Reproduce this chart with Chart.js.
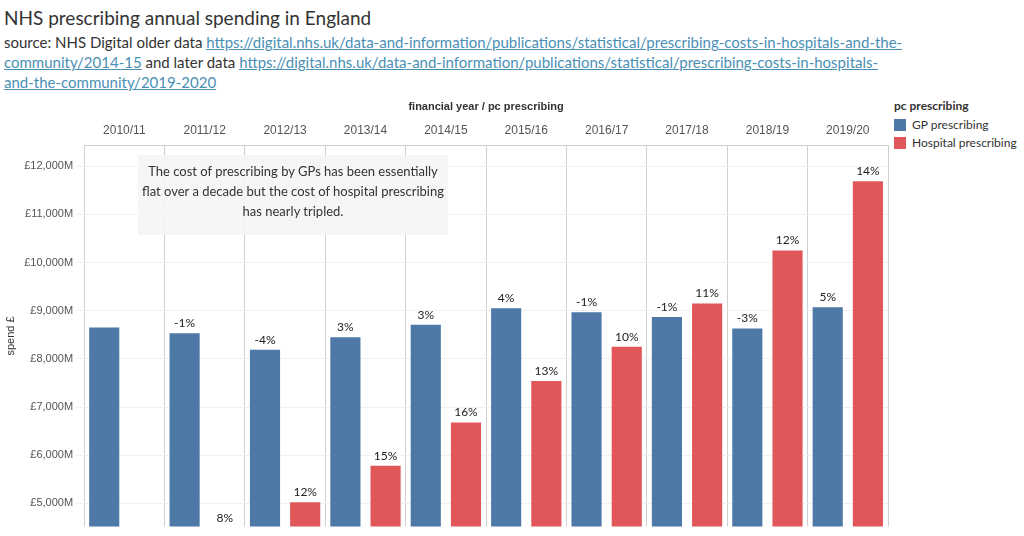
<!DOCTYPE html>
<html>
<head>
<meta charset="utf-8">
<script src="https://cdn.jsdelivr.net/npm/chart.js@4"></script>
<style>
  body { margin: 0; font-family: Lato, "Open Sans", sans-serif; background: #fff; width: 1024px; height: 536px; overflow: hidden; position: relative; }
  #title { position: absolute; left: 4px; top: 6px; font-size: 19px; color: #333; }
  #source { position: absolute; left: 4px; top: 32px; width: 900px; font-size: 15px; color: #333; line-height: 20px; }
  #source a { color: #4a8fb5; }
  #wrap { position: absolute; left: 0; top: 98px; width: 890px; height: 438px; }
  #note { position: absolute; left: 138px; top: 155px; width: 310px; height: 80px; background: rgba(245,245,245,0.9); font-size: 13px; color: #333; text-align: center; line-height: 20px; padding-top: 6px; box-sizing: border-box; }
  #legend { position: absolute; left: 894px; top: 98px; font-size: 12px; color: #333; }
  #legend .t { font-weight: bold; margin-bottom: 4px; }
  #legend .i { display: flex; align-items: center; margin: 3px 0; }
  #legend .s { width: 12px; height: 12px; margin-right: 6px; }
</style>
</head>
<body>
<div id="title">NHS prescribing annual spending in England</div>
<div id="source">source: NHS Digital older data <a href="#">https://digital.nhs.uk/data-and-information/publications/statistical/prescribing-costs-in-hospitals-and-the-community/2014-15</a> and later data <a href="#">https://digital.nhs.uk/data-and-information/publications/statistical/prescribing-costs-in-hospitals-and-the-community/2019-2020</a></div>
<div id="wrap"><canvas id="c"></canvas></div>
<div id="note">The cost of prescribing by GPs has been essentially flat over a decade but the cost of hospital prescribing has nearly tripled.</div>
<div id="legend">
  <div class="t">pc prescribing</div>
  <div class="i"><div class="s" style="background:#4e79a7"></div>GP prescribing</div>
  <div class="i"><div class="s" style="background:#e15759"></div>Hospital prescribing</div>
</div>
<script>
const years = ['2010/11', '2011/12', '2012/13', '2013/14', '2014/15', '2015/16', '2016/17', '2017/18', '2018/19', '2019/20'];
const gpSpend = [8650, 8530, 8190, 8450, 8710, 9050, 8970, 8870, 8630, 9070];
const hospitalSpend = [4160, 4490, 5020, 5780, 6680, 7540, 8250, 9150, 10250, 11690];
const gpLabels = ['', '-1%', '-4%', '3%', '3%', '4%', '-1%', '-1%', '-3%', '5%'];
const hospitalLabels = ['', '8%', '12%', '15%', '16%', '13%', '10%', '11%', '12%', '14%'];

const barLabels = {
    id: 'barLabels',
    afterDatasetsDraw(chart) {
        const ctx = chart.ctx;
        const all = [gpLabels, hospitalLabels];
        ctx.save();
        ctx.font = '12px Lato, sans-serif';
        ctx.fillStyle = '#222';
        ctx.textAlign = 'center';
        ctx.textBaseline = 'bottom';
        chart.data.datasets.forEach((ds, i) => {
            chart.getDatasetMeta(i).data.forEach((bar, j) => {
                const y = Math.min(bar.y, chart.chartArea.bottom + 10);
                ctx.fillText(all[i][j], bar.x, y - 4);
            });
        });
        ctx.restore();
    }
};

new Chart(document.getElementById('c'), {
    type: 'bar',
    data: {
        labels: years,
        datasets: [
            { label: 'GP prescribing', data: gpSpend, backgroundColor: '#4e79a7', barPercentage: 0.75, categoryPercentage: 1 },
            { label: 'Hospital prescribing', data: hospitalSpend, backgroundColor: '#e15759', barPercentage: 0.75, categoryPercentage: 1 }
        ]
    },
    options: {
        responsive: true,
        maintainAspectRatio: false,
        animation: false,
        layout: { padding: { left: 0, right: 2, top: 0, bottom: 0 } },
        plugins: { legend: { display: false }, tooltip: { enabled: false } },
        scales: {
            x: {
                position: 'top',
                title: { display: true, text: 'financial year / pc prescribing', font: { size: 11, weight: 'bold' }, color: '#333', padding: 2 },
                ticks: { color: '#555', font: { size: 12 }, padding: 8 },
                grid: { offset: true, color: '#d0d0d0', drawTicks: true, tickLength: 0 },
                border: { color: '#d0d0d0' }
            },
            y: {
                min: 4520,
                max: 12430,
                afterBuildTicks(axis) {
                    axis.ticks = [5000, 6000, 7000, 8000, 9000, 10000, 11000, 12000].map(v => ({ value: v }));
                },
                ticks: { color: '#555', font: { size: 11 }, callback: v => '£' + v.toLocaleString('en-GB') + 'M' },
                title: { display: true, text: 'spend £', font: { size: 11 }, color: '#333' },
                grid: { color: '#f0f0f0' },
                border: { display: false }
            }
        }
    },
    plugins: [barLabels]
});
</script>
</body>
</html>
